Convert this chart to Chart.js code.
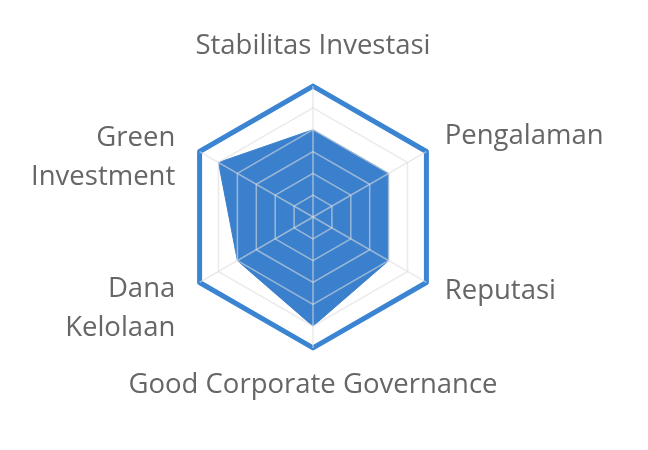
<!DOCTYPE html>
<html>
<head>
<meta charset="utf-8">
<script src="https://cdn.jsdelivr.net/npm/chart.js@4"></script>
<style>
  html, body { margin: 0; padding: 0; background: #fff; }
  #wrap { width: 648px; height: 450px; }
</style>
</head>
<body>
<div id="wrap"><canvas id="radar"></canvas></div>
<script>
const labels = [
  'Stabilitas Investasi',
  'Pengalaman',
  'Reputasi',
  'Good Corporate Governance',
  ['Dana', 'Kelolaan'],
  ['Green', 'Investment']
];
const scores = [4, 4, 4, 5, 4, 5];
const maxScores = [6, 6, 6, 6, 6, 6];

// small nudges so the labels sit like in the original layout
const labelShift = [[0, 0], [1, 14], [1, -21], [0, -2], [-7, -23], [-7, 55]];

const nudgeLabels = {
  id: 'nudgeLabels',
  afterLayout(chart) {
    const items = chart.scales.r._pointLabelItems || [];
    items.forEach((it, i) => {
      const [dx, dy] = labelShift[i] || [0, 0];
      it.x += dx; it.left += dx; it.right += dx;
      it.y += dy; it.top += dy; it.bottom += dy;
    });
  }
};

const gridColor = 'rgba(220,220,220,0.6)';

new Chart(document.getElementById('radar'), {
  type: 'radar',
  data: {
    labels: labels,
    datasets: [
      {
        label: 'Skor',
        data: scores,
        backgroundColor: '#3a80cd',
        borderColor: '#3a80cd',
        borderWidth: 1,
        pointRadius: 0,
        fill: true
      },
      {
        label: 'Maks',
        data: maxScores,
        backgroundColor: 'transparent',
        borderColor: '#3a84d2',
        borderWidth: 5,
        borderJoinStyle: 'round',
        pointRadius: 0,
        fill: false
      }
    ]
  },
  options: {
    responsive: true,
    maintainAspectRatio: false,
    animation: false,
    layout: { padding: { top: 28, bottom: 42, left: 27, right: 31 } },
    plugins: {
      legend: { display: false },
      tooltip: { enabled: false }
    },
    scales: {
      r: {
        min: 0,
        max: 6,
        ticks: { display: false, stepSize: 1 },
        grid: {
          z: 1,
          lineWidth: 1.5,
          color: (ctx) => ctx.index === 6 ? 'rgba(0,0,0,0)' : gridColor
        },
        angleLines: { color: gridColor, lineWidth: 1.5 },
        pointLabels: {
          color: '#666',
          padding: 20,
          font: { family: '"Open Sans", "Noto Sans", sans-serif', size: 27.5, lineHeight: 1.42 }
        }
      }
    }
  },
  plugins: [nudgeLabels]
});
</script>
</body>
</html>
